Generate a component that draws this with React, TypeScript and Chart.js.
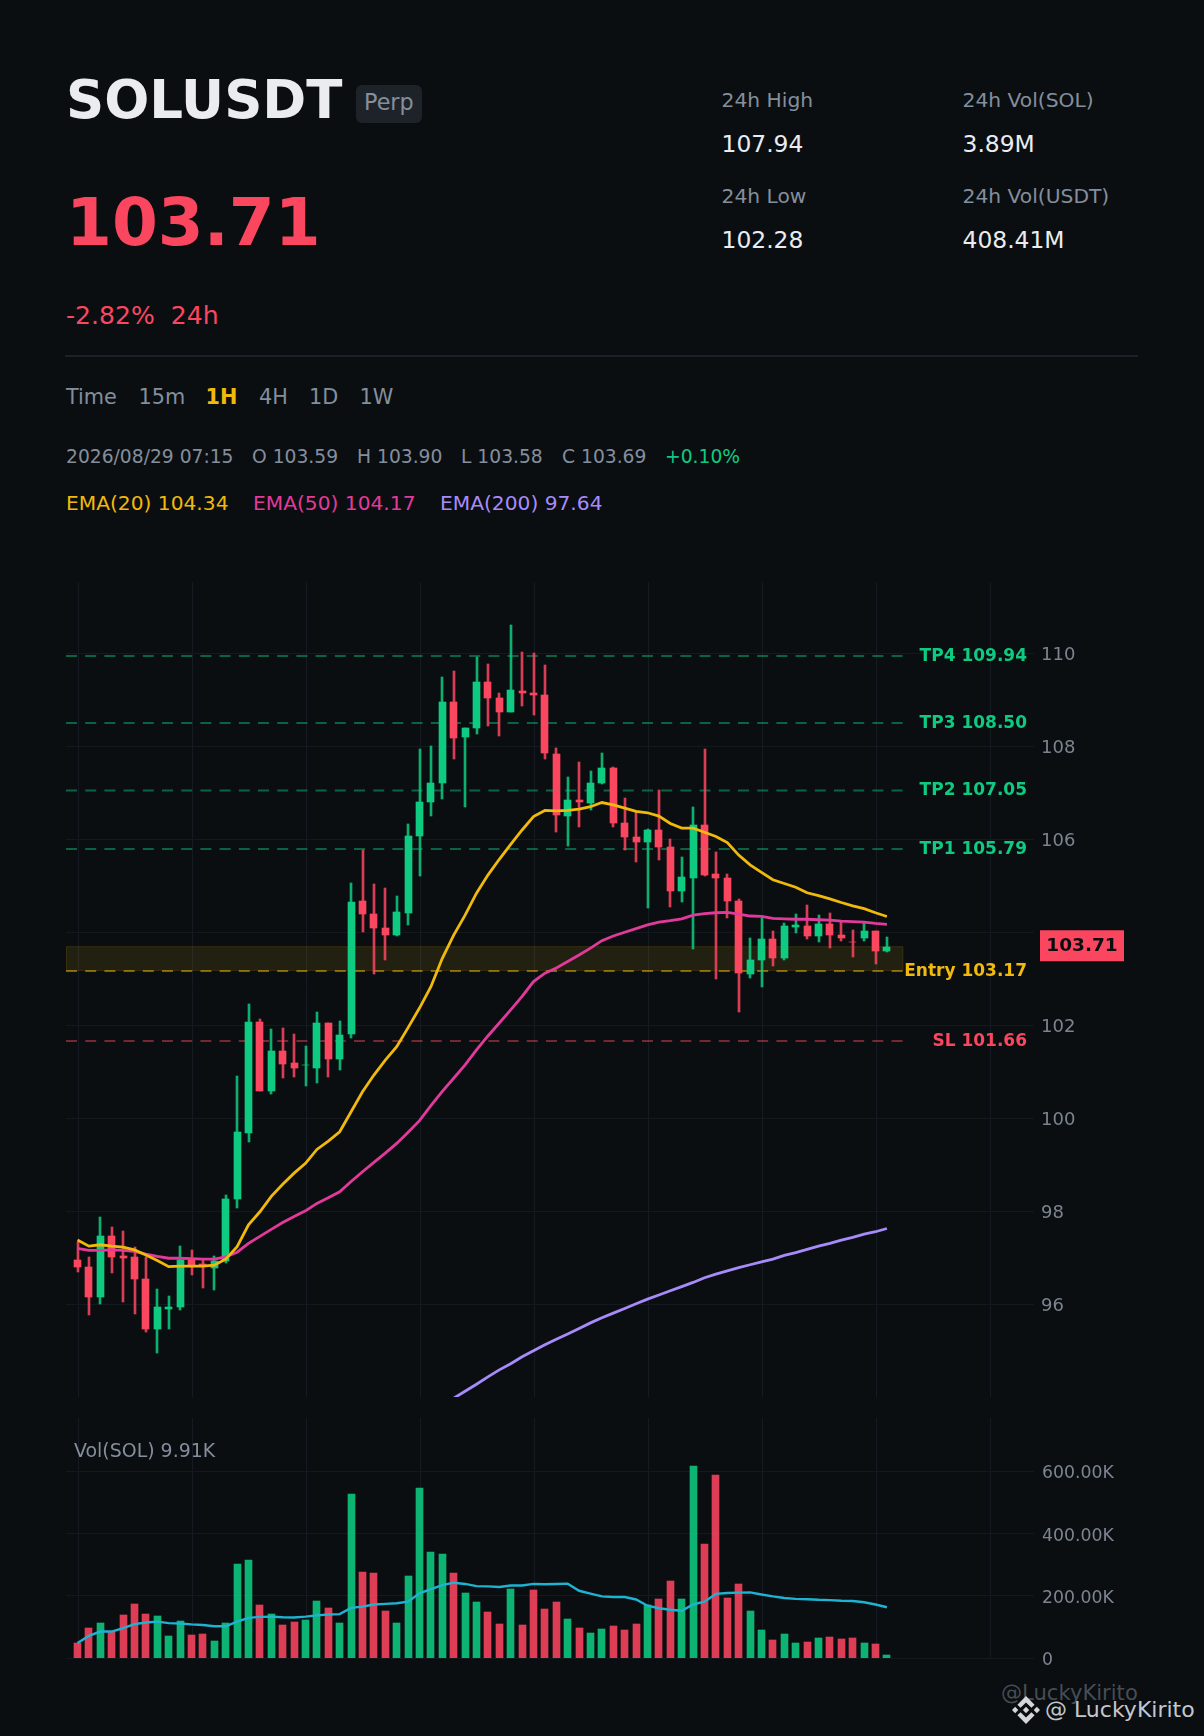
import React, { useEffect, useRef } from "react";
import { Chart, registerables } from "chart.js";

Chart.register(...registerables);

const opens = [96.95,96.80,96.16,97.47,97.04,97.02,96.54,95.47,95.93,95.94,96.95,96.86,96.78,96.93,98.27,99.68,102.07,100.59,101.45,101.19,101.15,101.08,102.05,101.28,101.81,104.67,104.39,104.09,103.94,104.42,106.07,106.80,107.21,108.95,108.20,108.39,109.38,109.04,108.74,109.19,109.15,109.10,107.84,106.50,106.85,106.78,107.21,107.53,106.35,106.05,105.94,106.20,105.84,104.89,105.17,106.31,105.25,105.17,104.67,103.10,103.41,103.86,103.45,104.14,104.14,103.92,104.18,103.94,103.801,103.88,104.03,103.59];
const highs = [97.35,97.02,97.88,97.66,97.58,97.23,97.02,96.33,96.18,97.25,97.17,96.95,97.04,98.35,100.91,102.46,102.14,101.92,101.94,101.81,101.56,102.29,102.05,102.09,105.06,105.78,105.04,104.95,104.78,106.33,107.94,108.01,109.49,109.62,108.39,109.92,109.77,109.15,110.61,110.03,110.01,109.75,107.96,107.34,107.66,107.47,107.86,107.56,106.89,106.59,106.22,107.06,106.01,105.62,106.70,107.94,105.73,105.25,104.72,103.88,104.31,104.03,104.20,104.39,104.59,104.37,104.42,104.24,104.05,104.20,104.03,103.90];
const lows = [96.70,95.77,96.01,96.67,96.05,95.79,95.40,94.95,95.47,95.88,96.63,96.35,96.31,96.89,98.07,99.49,100.59,100.52,100.87,100.89,100.70,100.76,100.89,101.04,101.73,104.01,103.10,103.41,103.92,104.16,105.21,106.50,106.87,107.73,106.70,108.27,108.44,108.22,108.74,108.87,108.67,107.73,106.16,105.86,106.27,106.63,107.19,106.27,105.77,105.51,104.52,105.56,104.54,104.65,103.64,105.21,103.00,104.31,102.29,103.02,102.82,103.28,103.41,103.99,103.86,103.79,103.66,103.81,103.47,103.81,103.32,103.58];
const closes = [96.80,96.16,97.47,97.02,97.02,96.54,95.47,95.94,95.95,96.95,96.85,96.82,96.93,98.27,99.71,102.07,100.59,101.45,101.17,101.08,101.15,102.05,101.28,101.79,104.65,104.39,104.09,103.94,104.44,106.07,106.80,107.21,108.95,108.18,108.39,109.38,109.04,108.74,109.21,109.15,109.10,107.86,106.52,106.85,106.80,107.21,107.53,106.35,106.05,105.94,106.20,105.84,104.89,105.19,106.31,105.23,105.17,104.67,103.13,103.41,103.86,103.45,104.14,104.16,103.92,104.18,103.94,103.88,103.80,104.03,103.60,103.69];
const ema20 = [97.38,97.25,97.28,97.25,97.23,97.17,97.06,96.94,96.81,96.82,96.82,96.82,96.84,96.97,97.24,97.71,97.99,98.32,98.58,98.82,99.03,99.33,99.51,99.71,100.14,100.57,100.93,101.25,101.54,101.95,102.37,102.83,103.44,103.94,104.37,104.84,105.23,105.57,105.89,106.20,106.49,106.62,106.61,106.62,106.65,106.70,106.79,106.74,106.67,106.60,106.57,106.50,106.34,106.24,106.24,106.15,106.06,105.93,105.66,105.45,105.29,105.13,105.05,104.97,104.85,104.79,104.72,104.64,104.57,104.51,104.42,104.34];
const ema50 = [97.20,97.16,97.16,97.17,97.16,97.14,97.08,97.03,96.99,96.99,96.98,96.97,96.97,97.02,97.12,97.31,97.46,97.61,97.76,97.89,98.01,98.17,98.29,98.42,98.64,98.85,99.05,99.25,99.46,99.70,99.95,100.27,100.58,100.86,101.15,101.47,101.77,102.05,102.33,102.62,102.94,103.12,103.23,103.37,103.51,103.66,103.82,103.92,104.00,104.08,104.16,104.22,104.25,104.29,104.37,104.40,104.42,104.43,104.39,104.35,104.34,104.30,104.29,104.28,104.28,104.27,104.26,104.24,104.23,104.22,104.19,104.17];
const ema200Start = 32;
const ema200 = [93.83,93.98,94.13,94.28,94.44,94.59,94.72,94.87,95.00,95.13,95.25,95.36,95.48,95.60,95.71,95.81,95.91,96.01,96.11,96.20,96.29,96.38,96.47,96.57,96.65,96.72,96.79,96.85,96.91,96.97,97.05,97.11,97.18,97.25,97.31,97.38,97.44,97.51,97.56,97.63];
const volumesK = [48,96,112,84,138,174,141,135,71,119,74,77,55,112,302,315,170,141,106,116,122,183,161,112,527,276,273,151,112,264,546,341,334,273,209,180,148,109,222,106,219,157,180,125,96,80,93,103,90,109,170,190,247,190,617,366,588,193,238,151,90,58,77,48,51,64,67,61,64,48,45,9.91];
const volMaK = [48,71,85,85,96,109,114,117,112,111,108,106,102,102,117,129,132,133,131,130,133,137,140,141,161,165,172,174,176,181,208,221,234,242,238,231,230,228,233,233,238,237,238,239,216,207,198,196,196,188,168,160,155,152,172,181,206,209,210,211,204,198,193,190,189,187,186,184,183,179,172,163];
const priceTicks = [96,98,100,102,104,106,108,110];
const hiddenPriceTick = 104;
const volTicksK = [0,200,400,600];
const timeGridIdx = [0,10,20,30,40,50,60,70,80];
const levelNames = ["TP4 109.94","TP3 108.50","TP2 107.05","TP1 105.79","Entry 103.17","SL 101.66"];
const levelValues = [109.94,108.50,107.05,105.79,103.17,101.66];
const lastPrice = 103.71;
const zoneTop = 103.70;
const zoneBottom = 103.17;

const BG = "#0a0e11";
const GREEN = "#0ecb81";
const RED = "#fb4660";
const AMBER = "#f0b90b";
const PINK = "#e23a9b";
const PURPLE = "#a78bfa";
const CYAN = "#1fb3d2";
const GRAY = "#848e9c";
const TICK = "#7c8490";
const GRID = "#14191f";
const GRIDV = "#161b23";
const FONT = '"DejaVu Sans"';

const XMIN = (66 - 77.5) / 11.4;
const XMAX = (1034 - 77.5) / 11.4;
const LEVEL_END = (903.3 - 77.5) / 11.4;

const up = (i: number) => closes[i] >= opens[i];
const pts = (arr: number[], start = 0) => arr.map((y, i) => ({ x: i + start, y }));

const snapBars = {
  id: "snapBars",
  afterDatasetsUpdate(chart: any) {
    chart.data.datasets.forEach((ds: any, d: number) => {
      if (ds.type !== "bar") return;
      chart.getDatasetMeta(d).data.forEach((el: any) => {
        const odd = ds.barThickness % 2 === 1;
        el.x = odd ? Math.round(el.x - 0.5) + 0.5 : Math.round(el.x);
        const raw = Math.abs(el.y - el.base);
        let y = Math.round(el.y);
        let base = Math.round(el.base);
        if (raw >= 0.5 && Math.abs(y - base) < 2) {
          const top = Math.min(y, base);
          y = top;
          base = top + 2;
        }
        el.y = y;
        el.base = base;
      });
    });
  },
};

const priceOverlay = {
  id: "priceOverlay",
  beforeDatasetsDraw(chart: any) {
    const { ctx, scales } = chart;
    const y0 = scales.y.getPixelForValue(zoneTop);
    const y1 = scales.y.getPixelForValue(zoneBottom);
    const x0 = scales.x.getPixelForValue(XMIN);
    const x1 = scales.x.getPixelForValue(LEVEL_END);
    ctx.save();
    ctx.fillStyle = "rgba(240,185,11,0.11)";
    ctx.strokeStyle = "rgba(240,185,11,0.10)";
    ctx.lineWidth = 1;
    ctx.fillRect(x0, y0, x1 - x0, y1 - y0);
    ctx.strokeRect(x0 + 0.5, y0 + 0.5, x1 - x0 - 1, y1 - y0 - 1);
    ctx.restore();
  },
  afterDatasetsDraw(chart: any) {
    const { ctx, scales } = chart;
    ctx.save();
    ctx.font = `bold 17px ${FONT}`;
    ctx.textAlign = "right";
    ctx.textBaseline = "middle";
    levelValues.forEach((v, i) => {
      ctx.fillStyle = i < 4 ? GREEN : i === 4 ? AMBER : RED;
      ctx.fillText(levelNames[i], 1027, scales.y.getPixelForValue(v) + 0.5);
    });
    const py = scales.y.getPixelForValue(lastPrice);
    ctx.fillStyle = RED;
    ctx.fillRect(1040, py - 15.5, 84, 31);
    ctx.fillStyle = BG;
    ctx.font = `bold 18.5px ${FONT}`;
    ctx.textAlign = "center";
    ctx.fillText(lastPrice.toFixed(2), 1082, py);
    ctx.restore();
  },
};

const xScale = () => ({
  type: "linear",
  min: XMIN,
  max: XMAX,
  offset: false,
  afterBuildTicks: (s: any) => { s.ticks = timeGridIdx.map((v) => ({ value: v + 0.07 })); },
  afterFit: (s: any) => { s.height = 0; s.paddingLeft = 0; s.paddingRight = 0; },
  ticks: { display: false },
  grid: { color: GRIDV, lineWidth: 1, drawTicks: false, offset: false },
  border: { display: false },
});

const yScale = (min: number, max: number, values: number[], fmt: (v: number) => string, size: number, padding: number) => ({
  type: "linear",
  position: "right",
  min,
  max,
  afterBuildTicks: (s: any) => { s.ticks = values.map((v) => ({ value: v })); },
  afterFit: (s: any) => { s.width = 170; s.paddingTop = 0; s.paddingBottom = 0; },
  ticks: { color: TICK, padding, labelOffset: 2.5, font: { family: FONT, size }, callback: (v: any) => fmt(Number(v)) },
  grid: { color: GRID, lineWidth: 1, drawTicks: false },
  border: { display: false },
});

const baseOptions = {
  responsive: false,
  animation: false,
  devicePixelRatio: 1,
  events: [],
  plugins: { legend: { display: false }, tooltip: { enabled: false } },
};

const line = (data: any[], color: string, width: number, order: number, extra: any = {}) => ({
  type: "line",
  data,
  borderColor: color,
  borderWidth: width,
  pointRadius: 0,
  tension: 0,
  fill: false,
  order,
  ...extra,
});

function Text({ x, y, size, color, bold, font, children }: any) {
  return (
    <span
      style={{
        position: "absolute",
        left: x,
        top: y - size,
        height: size * 2,
        lineHeight: `${size * 2}px`,
        fontSize: size,
        fontFamily: font || FONT,
        fontWeight: bold ? 700 : 400,
        color,
        whiteSpace: "pre",
      }}
    >
      {children}
    </span>
  );
}

export default function App() {
  const priceRef = useRef<HTMLCanvasElement>(null);
  const volRef = useRef<HTMLCanvasElement>(null);

  useEffect(() => {
    const idx = opens.map((_, i) => i);
    const priceChart = new Chart(priceRef.current as any, {
      type: "bar",
      data: {
        datasets: [
          line(pts(ema20), AMBER, 2.8, 0),
          line(pts(ema50), PINK, 2.8, 0),
          line(pts(ema200, ema200Start), PURPLE, 2.8, 0),
          {
            type: "bar",
            data: idx.map((i) => ({ x: i, y: [opens[i], closes[i]] })),
            backgroundColor: idx.map((i) => (up(i) ? GREEN : RED)),
            barThickness: 7,
            grouped: false,
            order: 1,
          },
          {
            type: "bar",
            data: idx.map((i) => ({ x: i, y: [lows[i], highs[i]] })),
            backgroundColor: idx.map((i) => (up(i) ? "rgba(14,203,129,0.85)" : "rgba(251,70,96,0.85)")),
            barThickness: 2,
            grouped: false,
            order: 2,
          },
          ...levelValues.map((v, i) =>
            line(
              [{ x: XMIN, y: v }, { x: LEVEL_END, y: v }],
              i < 4 ? "rgba(14,203,129,0.45)" : i === 4 ? "rgba(240,185,11,0.5)" : "rgba(251,70,96,0.45)",
              2,
              3,
              { borderDash: [11, 8.2] }
            )
          ),
        ] as any,
      },
      options: {
        ...baseOptions,
        layout: { padding: { left: 66, top: 22, right: 0, bottom: 23 } },
        scales: {
          x: xScale(),
          y: yScale(94.006, 111.533, priceTicks, (v) => (v === hiddenPriceTick ? "" : String(v)), 18, 7),
        },
      } as any,
      plugins: [snapBars, priceOverlay],
    } as any);

    const volChart = new Chart(volRef.current as any, {
      type: "bar",
      data: {
        datasets: [
          line(pts(volMaK), CYAN, 2.4, 0),
          {
            type: "bar",
            data: idx.map((i) => ({ x: i, y: volumesK[i] })),
            backgroundColor: idx.map((i) => (up(i) ? "rgba(14,203,129,0.88)" : "rgba(251,70,96,0.88)")),
            barThickness: 7,
            grouped: false,
            order: 1,
          },
        ] as any,
      },
      options: {
        ...baseOptions,
        layout: { padding: { left: 66, top: 8, right: 0, bottom: 12 } },
        scales: {
          x: xScale(),
          y: yScale(0, 771.2, volTicksK, (v) => (v === 0 ? "0" : `${v.toFixed(2)}K`), 17.3, 8),
        },
      } as any,
      plugins: [snapBars],
    } as any);

    return () => {
      priceChart.destroy();
      volChart.destroy();
    };
  }, []);

  return (
    <div style={{ position: "absolute", left: 0, top: 0, width: 1204, height: 1736, background: BG, overflow: "hidden" }}>
      <Text x={66} y={100} size={53} color="#eaecef" bold>SOLUSDT</Text>
      <div style={{ position: "absolute", left: 356, top: 85, width: 66, height: 38, borderRadius: 6, background: "#1e2329" }} />
      <Text x={364} y={102} size={22.3} color={GRAY}>Perp</Text>
      <Text x={66} y={223} size={66} color={RED} bold>103.71</Text>
      <Text x={66} y={316.5} size={25.1} color={RED}>{"-2.82%  24h"}</Text>

      <Text x={721.5} y={100} size={20.25} color={GRAY}>24h High</Text>
      <Text x={721.5} y={144} size={23.4} color="#eaecef">107.94</Text>
      <Text x={721.5} y={196} size={20.25} color={GRAY}>24h Low</Text>
      <Text x={721.5} y={240} size={23.4} color="#eaecef">102.28</Text>
      <Text x={962.5} y={100} size={20.25} color={GRAY}>24h Vol(SOL)</Text>
      <Text x={962.5} y={144} size={23.4} color="#eaecef">3.89M</Text>
      <Text x={962.5} y={196} size={20.25} color={GRAY}>24h Vol(USDT)</Text>
      <Text x={962.5} y={240} size={23.4} color="#eaecef">408.41M</Text>

      <div style={{ position: "absolute", left: 65, top: 355, width: 1073, height: 2, background: "#1c222c" }} />

      <Text x={66} y={398} size={20.8} color={GRAY}>Time</Text>
      <Text x={138.5} y={398} size={20.8} color={GRAY}>15m</Text>
      <Text x={205.5} y={398} size={20.8} color={AMBER} bold>1H</Text>
      <Text x={259} y={398} size={20.8} color={GRAY}>4H</Text>
      <Text x={309} y={398} size={20.8} color={GRAY}>1D</Text>
      <Text x={359.5} y={398} size={20.8} color={GRAY}>1W</Text>

      <Text x={66} y={457} size={18.7} color={GRAY}>2026/08/29 07:15</Text>
      <Text x={252} y={457} size={18.7} color={GRAY}>O 103.59</Text>
      <Text x={357} y={457} size={18.7} color={GRAY}>H 103.90</Text>
      <Text x={461} y={457} size={18.7} color={GRAY}>L 103.58</Text>
      <Text x={562} y={457} size={18.7} color={GRAY}>C 103.69</Text>
      <Text x={665} y={457} size={18.7} color={GREEN}>+0.10%</Text>

      <Text x={66} y={503} size={20.2} color={AMBER}>EMA(20) 104.34</Text>
      <Text x={253} y={503} size={20.2} color={PINK}>EMA(50) 104.17</Text>
      <Text x={440} y={503} size={20.2} color={PURPLE}>EMA(200) 97.64</Text>

      <canvas ref={priceRef} width={1204} height={860} style={{ position: "absolute", left: 0, top: 560, display: "block" }} />
      <canvas ref={volRef} width={1204} height={260} style={{ position: "absolute", left: 0, top: 1410, display: "block" }} />

      <Text x={74} y={1451} size={18.95} color={GRAY}>Vol(SOL) 9.91K</Text>

      <Text x={1001} y={1693} size={21.1} color="rgba(150,156,168,0.45)">@LuckyKirito</Text>
      <svg viewBox="0 0 32 32" width={28} height={28} style={{ position: "absolute", left: 1012, top: 1696 }}>
        <path
          fill="#d4d6da"
          d="M9.8 13.5 16 7.3l6.2 6.2 3.6-3.6L16 0 6.2 9.9zM0 16l3.6-3.6L7.2 16l-3.6 3.6zm9.8 2.5 6.2 6.2 6.2-6.2 3.6 3.6L16 32l-9.8-9.9zm15-2.5 3.6-3.6L32 16l-3.6 3.6zM19.6 16 16 12.4 13.3 15l-.3.3-.6.7L16 19.6z"
        />
      </svg>
      <Text x={1045} y={1710} size={22} color="#c4c7cc">@ LuckyKirito</Text>
    </div>
  );
}
